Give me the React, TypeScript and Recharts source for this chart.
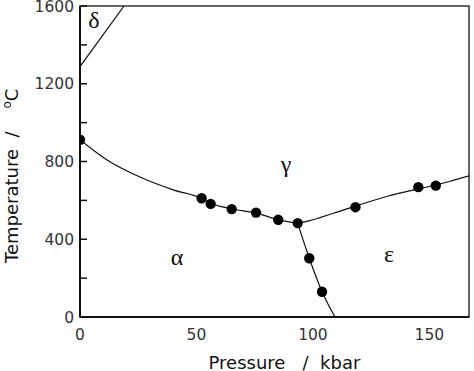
import { ComposedChart, Line, Scatter, XAxis, YAxis, ReferenceDot, ReferenceArea, Label } from 'recharts'

// measured transition points (pressure kbar, temperature °C)
const measuredP = [0, 61.9, 66.5, 77.2, 89.6, 100.9, 110.8, 116.7, 123.2, 140.2, 172.2, 181.1]
const measuredT = [912, 611, 582, 555, 537, 500, 483, 302, 130, 565, 668, 676]

// phase boundaries
const alphaGammaP = [0, 13.6, 30.5, 47.5, 62, 66.5, 77, 90, 101, 110.8]
const alphaGammaT = [912, 809, 720, 654, 610, 585, 557, 534, 500, 483]
const gammaEpsP = [110.8, 117, 129, 156, 188, 198]
const gammaEpsT = [483, 496, 534, 620, 697, 726]
const alphaEpsP = [110.8, 116.7, 123.2, 129.8]
const alphaEpsT = [483, 302, 130, 0]
const deltaP = [0, 22.4]
const deltaT = [1288, 1600]

const phaseNames = ['δ', 'γ', 'α', 'ε']
const phaseP = [7.1, 104.9, 49.4, 157.3]
const phaseT = [1530, 788, 309, 325]

const pressureTicks = [0, 50, 100, 150]
const pressureMarks = [50, 100, 150]
const tempTicks = [0, 200, 400, 600, 800, 1000, 1200, 1400, 1600]

const toRows = (ps: number[], ts: number[]) => ps.map((p, i) => ({ p, t: ts[i] }))

const measured = toRows(measuredP, measuredT)
const boundaries = [
  { rows: toRows(alphaGammaP, alphaGammaT), curve: 'monotone' },
  { rows: toRows(gammaEpsP, gammaEpsT), curve: 'monotone' },
  { rows: toRows(alphaEpsP, alphaEpsT), curve: 'monotone' },
  { rows: toRows(deltaP, deltaT), curve: 'linear' },
]

const sans = '"DejaVu Sans", Verdana, sans-serif'
const tickStyle = { fontSize: 15.5, fill: '#333', fontFamily: sans }

const dotShape = (props: any) => <circle cx={props.cx} cy={props.cy} r={5.2} fill="#000" />

const PressureTitle = ({ viewBox }: any) => {
  const { x, y, width, height } = viewBox
  return (
    <text x={x + width / 2 + 10} y={y + height - 2} textAnchor="middle" fontSize={18} fontFamily={sans} fill="#111">
      {'Pressure\u00A0\u00A0\u00A0/\u00A0\u00A0kbar'}
    </text>
  )
}

const TempTitle = ({ viewBox }: any) => {
  const { x, y, height } = viewBox
  const tx = x + 18
  const ty = y + height - 54
  return (
    <text x={tx} y={ty} transform={`rotate(-90, ${tx}, ${ty})`} textAnchor="start" fontSize={18} fontFamily={sans} fill="#111">
      {'Temperature\u00A0\u00A0/\u00A0\u00A0\u00A0\u00A0'}
      <tspan fontSize={12} dy={-7}>o</tspan>
      <tspan dy={7}>C</tspan>
    </text>
  )
}

export default function App() {
  return (
    <div style={{ position: 'fixed', left: 0, top: 0, width: 474, height: 371, background: '#fff' }}>
      <ComposedChart width={474} height={371} data={measured} margin={{ top: 6, right: 5, bottom: 0, left: 0 }}>
        <XAxis
          xAxisId="a"
          dataKey="p"
          type="number"
          domain={[0, 198]}
          allowDataOverflow
          ticks={pressureMarks}
          interval={0}
          tick={false}
          tickSize={-7}
          height={2}
          axisLine={{ stroke: '#111', strokeWidth: 2 }}
          tickLine={{ stroke: '#111', strokeWidth: 1.5 }}
        />
        <XAxis
          xAxisId="b"
          dataKey="p"
          type="number"
          domain={[0, 167]}
          allowDataOverflow
          ticks={pressureTicks}
          interval={0}
          axisLine={false}
          tickLine={false}
          tickSize={0}
          tickMargin={10}
          height={52}
          tick={tickStyle}
        >
          <Label content={PressureTitle} />
        </XAxis>
        <YAxis
          dataKey="t"
          type="number"
          domain={[0, 1600]}
          allowDataOverflow
          ticks={tempTicks}
          interval={0}
          width={80}
          tickSize={-7}
          tickMargin={13}
          tickFormatter={(v: number) => (v % 400 === 0 ? String(v) : '')}
          tick={tickStyle}
          axisLine={{ stroke: '#111', strokeWidth: 2 }}
          tickLine={{ stroke: '#111', strokeWidth: 1.5 }}
        >
          <Label content={TempTitle} />
        </YAxis>
        <ReferenceArea xAxisId="a" x1={0} x2={198} y1={0} y2={1600} fill="none" fillOpacity={0} stroke="#333" strokeWidth={1.5} />
        {boundaries.map((b, i) => (
          <Line
            key={i}
            xAxisId="a"
            data={b.rows}
            dataKey="t"
            type={b.curve as any}
            stroke="#111"
            strokeWidth={1.2}
            dot={false}
            activeDot={false}
            isAnimationActive={false}
          />
        ))}
        <Scatter xAxisId="a" data={measured} dataKey="t" shape={dotShape} isAnimationActive={false} />
        {phaseNames.map((name, i) => (
          <ReferenceDot
            key={name}
            xAxisId="a"
            x={phaseP[i]}
            y={phaseT[i]}
            r={0}
            fill="none"
            stroke="none"
            label={{ value: name, position: 'center', fill: '#111', fontSize: 24, fontFamily: '"Liberation Serif", serif' }}
          />
        ))}
      </ComposedChart>
    </div>
  )
}
